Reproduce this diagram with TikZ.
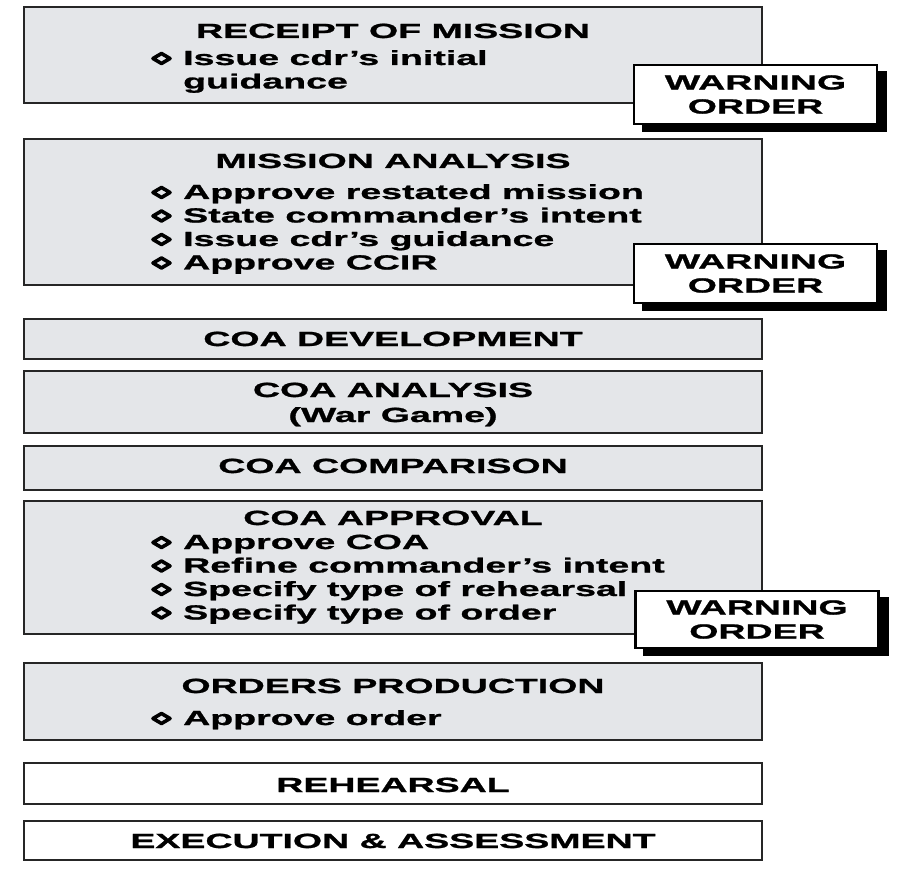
\documentclass[tikz,border=0pt]{standalone}
\usepackage{fontspec}
\setmainfont{Liberation Sans}[FakeStretch=1.83, BoldFeatures={FakeBold=1.2}]
\usetikzlibrary{shadows}
\definecolor{stagegray}{RGB}{228,230,233}

\begin{document}
\begin{tikzpicture}[x=1pt, y=-1pt,
    stage/.style={draw=black!85, line width=2.6pt, fill=stagegray, minimum width=738pt, inner sep=0pt},
    plain/.style={stage, fill=white},
    title/.style={font=\bfseries\fontsize{20.5}{23.5}\selectfont, anchor=base, inner sep=0pt},
    items/.style={title, anchor=base west, align=left},
    dia/.pic={\draw[line width=3.6pt, line join=round, fill=stagegray] (0,5) -- (8.5,0) -- (0,-5) -- (-8.5,0) -- cycle;},
    warn/.style={draw=black, line width=2.2pt, fill=white, minimum width=243pt, minimum height=59pt,
      align=center, font=\bfseries\fontsize{20.5}{24}\selectfont,
      general shadow={fill=black, draw=black, shadow xshift=9pt, shadow yshift=-7pt}}]
  \useasboundingbox (0,0) rectangle (912,874);

  \node[stage, minimum height=96pt] (receipt) at (393,55) {};
  \node[title] (receipt-t) at (393,38) {RECEIPT OF MISSION};
  \node[items] (receipt-l) at (183,88.5) {Issue cdr’s initial\\guidance};

  \node[stage, minimum height=146pt] (analysis) at (393,212) {};
  \node[title] (analysis-t) at (393,168) {MISSION ANALYSIS};
  \node[items] (analysis-l) at (183,269.5) {Approve restated mission\\State commander’s intent\\Issue cdr’s guidance\\Approve CCIR};

  \node[stage, minimum height=40pt] (development) at (393,339) {};
  \node[title] (development-t) at (393,346) {COA DEVELOPMENT};

  \node[stage, minimum height=62pt] (wargame) at (393,402) {};
  \node[title, align=center] (wargame-t) at (393,422) {COA ANALYSIS\\[1.5pt](War Game)};

  \node[stage, minimum height=44pt] (comparison) at (393,468) {};
  \node[title] (comparison-t) at (393,473) {COA COMPARISON};

  \node[stage, minimum height=133pt] (approval) at (393,567.5) {};
  \node[title] (approval-t) at (393,525) {COA APPROVAL};
  \node[items] (approval-l) at (183,619.5) {Approve COA\\Refine commander’s intent\\Specify type of rehearsal\\Specify type of order};

  \node[stage, minimum height=77pt] (production) at (393,701.5) {};
  \node[title] (production-t) at (393,693) {ORDERS PRODUCTION};
  \node[items] (production-l) at (183,725) {Approve order};

  \foreach \y in {65, 199, 222.5, 246, 269.5, 549, 572.5, 596, 619.5, 725}
    \pic at (161.5,\y-6.5) {dia};

  \node[plain, minimum height=41pt] (rehearsal) at (393,783.5) {};
  \node[title] (rehearsal-t) at (393,792) {REHEARSAL};

  \node[plain, minimum height=39pt] (execution) at (393,840.5) {};
  \node[title] (execution-t) at (393,848) {EXECUTION \& ASSESSMENT};

  \node[warn] (warning1) at (755.5,94.5) {WARNING\\ORDER};
  \node[warn] (warning2) at (755.5,273.5) {WARNING\\ORDER};
  \node[warn, minimum height=57pt] (warning3) at (757,619.5) {WARNING\\ORDER};
\end{tikzpicture}
\end{document}
